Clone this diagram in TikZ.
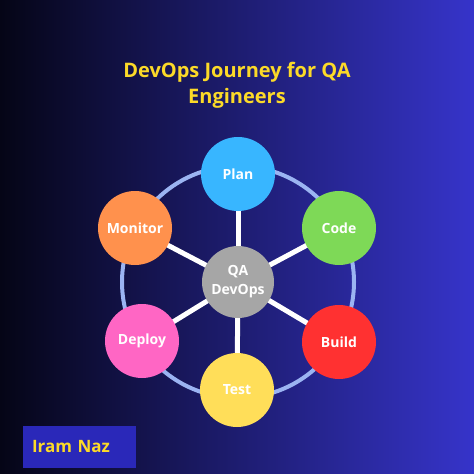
\documentclass[tikz,border=0pt]{standalone}
\usepackage{fontspec}
\setmainfont{Open Sans}
\usetikzlibrary{backgrounds}

\definecolor{bgleft}{RGB}{5,5,22}
\definecolor{bgmid}{RGB}{28,26,112}
\definecolor{bgright}{RGB}{54,52,202}
\definecolor{titleyellow}{RGB}{252,218,40}
\definecolor{ringblue}{RGB}{155,180,242}
\definecolor{planblue}{RGB}{56,182,255}
\definecolor{codegreen}{RGB}{126,217,87}
\definecolor{buildred}{RGB}{255,49,49}
\definecolor{testyellow}{RGB}{255,222,89}
\definecolor{deploypink}{RGB}{255,102,196}
\definecolor{monitororange}{RGB}{255,145,77}
\definecolor{qagray}{RGB}{166,166,166}
\definecolor{nameblue}{RGB}{42,40,185}

\tikzset{
  stage/.style={circle, minimum size=74pt, inner sep=0pt, text=white,
    font=\fontsize{14}{16}\selectfont\bfseries},
  spoke/.style={draw=white, line width=5pt},
  ring/.style={draw=ringblue, line width=4pt}
}

\begin{document}
\begin{tikzpicture}[x=1pt,y=-1pt]
\useasboundingbox (0,0) rectangle (474,474);

\node[text=titleyellow, align=center, font=\fontsize{20}{26}\selectfont\bfseries]
  (title) at (237,85) {DevOps Journey for QA\\Engineers};

\node[stage, fill=qagray, minimum size=72pt, align=center,
  font=\fontsize{14}{19}\selectfont\bfseries] (qa) at (238,282) {QA\\DevOps};
\node[stage, fill=planblue] (plan) at (238,174) {Plan};
\node[stage, fill=codegreen] (code) at (339,228) {Code};
\node[stage, fill=buildred] (build) at (339,342) {Build};
\node[stage, fill=testyellow] (test) at (237,390) {Test};
\node[stage, fill=deploypink] (deploy) at (142,341) {Deploy};
\node[stage, fill=monitororange] (monitor) at (135,228) {Monitor};

\node[fill=nameblue, text width=95pt, inner xsep=9pt, align=left,
  minimum height=42pt, text=titleyellow,
  font=\fontsize{17}{20}\selectfont\bfseries] (author) at (79.5,447) {Iram Naz};

\begin{scope}[on background layer]
\shade[left color=bgleft, middle color=bgmid, right color=bgright]
  (0,0) rectangle (474,474);
\draw[ring] (qa.center) circle (116);
\foreach \s in {plan,code,build,test,deploy,monitor}
  \draw[spoke] (qa.center) -- (\s.center);
\end{scope}

\end{tikzpicture}
\end{document}
